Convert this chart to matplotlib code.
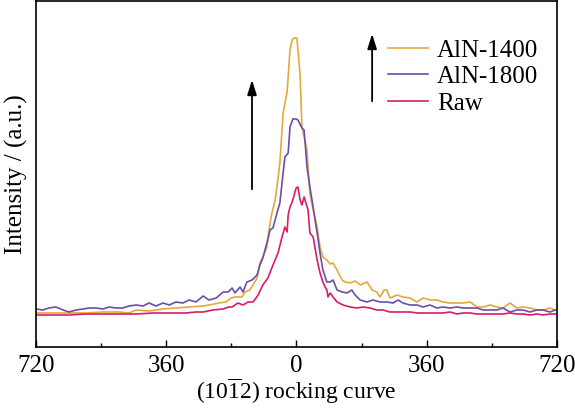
import matplotlib
matplotlib.use('Agg')
import matplotlib.pyplot as plt
from matplotlib.ticker import FixedLocator

plt.rcParams['font.family'] = ['Liberation Serif', 'DejaVu Serif']
plt.rcParams['mathtext.fontset'] = 'custom'
plt.rcParams['mathtext.rm'] = 'Liberation Serif'
plt.rcParams['mathtext.it'] = 'Liberation Serif:italic'

# AlN-1400
x_1400 = [-720, -673, -629, -582, -535, -491, -463, -443, -408, -369, -333, -297, -258, -242,
          -214, -195, -181, -170, -151, -142, -129, -120, -109, -101, -93, -82, -73, -68, -59,
          -54, -46, -37, -26, -18, -12, -7, 1, 4, 10, 15, 29, 32, 37, 46, 57, 65, 73, 84, 93,
          101, 112, 126, 134, 148, 162, 176, 195, 209, 222, 231, 242, 250, 258, 278, 294, 314,
          333, 350, 369, 388, 405, 424, 444, 460, 480, 499, 516, 535, 554, 571, 590, 609, 626,
          645, 665, 681, 701, 715]
y_1400 = [34, 34, 34, 34, 35, 35, 34, 37, 36, 38, 39, 40, 41, 42,
          44, 45, 49, 50, 50, 55, 57, 62, 69, 84, 90, 100, 124, 134, 147,
          160, 184, 234, 255, 297, 307, 309, 309, 297, 272, 220, 197, 180, 154, 137, 120, 100, 90, 87, 83,
          84, 77, 67, 65, 64, 66, 62, 65, 57, 55, 50, 57, 57, 49, 52, 50, 49,
          45, 49, 47, 47, 45, 44, 44, 44, 45, 40, 40, 42, 40, 39, 44, 39, 40,
          39, 37, 37, 39, 37]

# AlN-1800
x_1800 = [-720, -701, -684, -665, -645, -629, -609, -590, -573, -554, -535, -518, -499, -480,
          -463, -443, -424, -408, -388, -369, -352, -333, -314, -297, -278, -258, -242, -222,
          -203, -189, -178, -170, -156, -148, -137, -123, -109, -101, -93, -82, -73, -65, -54,
          -46, -37, -32, -23, -18, -10, -1, 4, 15, 21, 29, 37, 46, 57, 65, 73, 84, 93, 101,
          112, 126, 140, 153, 162, 176, 195, 211, 231, 250, 267, 281, 294, 314, 333, 350, 369,
          388, 405, 424, 444, 460, 480, 499, 516, 535, 554, 571, 590, 609, 626, 645, 665, 681,
          701, 715]
y_1800 = [38, 37, 39, 40, 37, 35, 37, 38, 39, 39, 38, 40, 39, 39,
          41, 42, 41, 44, 41, 44, 42, 45, 44, 47, 45, 51, 47, 49,
          55, 55, 59, 54, 60, 55, 65, 67, 72, 82, 89, 104, 117, 119, 134,
          144, 174, 190, 194, 220, 228, 228, 227, 219, 217, 180, 160, 140, 114, 94, 77, 65, 65, 67,
          57, 55, 54, 57, 52, 47, 45, 47, 45, 45, 44, 47, 44, 42, 42, 40, 42,
          39, 40, 39, 40, 39, 39, 39, 37, 37, 37, 39, 35, 37, 37, 35, 37, 37,
          35, 37]

# Raw
x_raw = [-720, -673, -629, -582, -535, -491, -443, -396, -352, -305, -278, -258, -231, -203,
         -187, -178, -162, -148, -134, -120, -106, -93, -79, -65, -51, -40, -32, -26, -23, -18,
         -12, -7, -1, 4, 10, 15, 21, 26, 32, 37, 46, 57, 65, 73, 79, 84, 87, 93, 101, 112, 129,
         148, 167, 184, 203, 222, 239, 258, 278, 294, 314, 333, 350, 369, 388, 405, 424, 444,
         460, 480, 499, 516, 535, 554, 571, 590, 609, 626, 645, 665, 681, 701, 715]
y_raw = [32, 32, 32, 33, 33, 33, 33, 34, 34, 34, 35, 35, 37, 38,
         40, 40, 44, 42, 45, 45, 52, 62, 69, 82, 94, 110, 120, 115, 132, 140,
         145, 151, 159, 160, 147, 142, 150, 144, 137, 114, 110, 87, 74, 65, 60, 57, 50, 54, 50, 45, 42,
         40, 39, 40, 39, 37, 37, 35, 35, 35, 35, 34, 34, 34, 34, 34, 35, 33,
         34, 34, 33, 33, 33, 33, 33, 34, 33, 33, 32, 33, 32, 33, 33]

tick_pos = [-720, -360, 0, 360, 720]
tick_labels = ['720', '360', '0', '360', '720']
minor_pos = [-540, -180, 180, 540]

fig = plt.figure(figsize=(5.75, 4.09), dpi=100)
ax = fig.add_axes([0.0626, 0.1516, 0.9061, 0.8460])

ax.plot(x_1400, y_1400, color='#E2A93B', lw=1.2, label='AlN-1400')
ax.plot(x_1800, y_1800, color='#6A4FA8', lw=1.2, label='AlN-1800')
ax.plot(x_raw, y_raw, color='#D91C6C', lw=1.2, label='Raw')

ax.annotate('', xy=(-123, 270), xytext=(-123, 155),
            arrowprops=dict(arrowstyle='-|>,head_length=0.9,head_width=0.28', color='black', lw=1.3))
ax.annotate('', xy=(209, 316), xytext=(209, 243),
            arrowprops=dict(arrowstyle='-|>,head_length=0.9,head_width=0.28', color='black', lw=1.3))

ax.set_xlim(-720, 720)
ax.set_ylim(0, 346)
ax.set_xticks(tick_pos)
ax.set_xticklabels(tick_labels)
ax.xaxis.set_minor_locator(FixedLocator(minor_pos))
ax.tick_params(axis='x', which='major', direction='in', length=5, width=1, labelsize=18, pad=6)
ax.tick_params(axis='x', which='minor', direction='in', length=3, width=1)
ax.set_yticks([])
for s in ax.spines.values():
    s.set_linewidth(1.2)

ax.set_xlabel(r'(10$\overline{\mathrm{1}}$2) rocking curve', fontsize=17, labelpad=-1)
ax.set_ylabel('Intensity / (a.u.)', fontsize=18, labelpad=6)

ax.legend(loc='upper left', bbox_to_anchor=(0.656, 0.919), frameon=False, fontsize=18,
          handlelength=1.6, handletextpad=0.36, labelspacing=0.16, borderaxespad=0)

fig.savefig('out.png', dpi=100)
